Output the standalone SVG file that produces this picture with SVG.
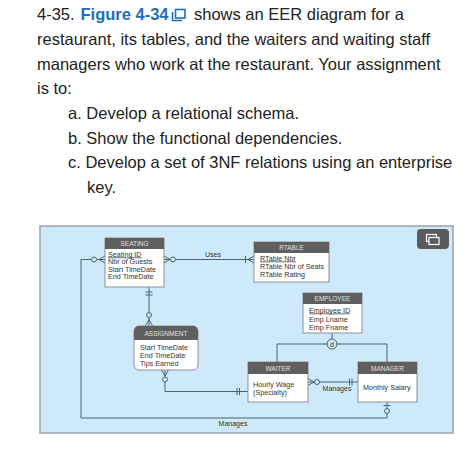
<svg xmlns="http://www.w3.org/2000/svg" width="474" height="460" viewBox="0 0 474 460">
<style>
.q{font-family:"Liberation Sans",Arial,sans-serif;font-size:16.5px;fill:#222}
.fig{font-weight:bold;fill:#1f6fb8}
.box{fill:#fff;stroke:#8c9296;stroke-width:1}
.hd{fill:#5f5f5f}
.ht{font-family:"Liberation Sans",Arial,sans-serif;font-size:6.5px;fill:#e0e0e0;text-anchor:middle}
.at{font-family:"Liberation Sans",Arial,sans-serif;font-size:7.2px;fill:#333}
.lb{font-family:"Liberation Sans",Arial,sans-serif;font-size:7px;fill:#333;text-anchor:middle}
.ln{fill:none;stroke:#4a6274;stroke-width:1}
.ci{fill:#cde9fa;stroke:#4a6274;stroke-width:1}
</style>
<rect width="474" height="460" fill="#fff"/>
<g id="question">
<text class="q" x="37" y="20">4-35.</text>
<text class="q fig" x="80.5" y="20">Figure 4-34</text>
<g fill="none" stroke="#1f6fb8" stroke-width="1.6">
<rect x="175.5" y="9.5" width="9.5" height="8.5"/>
<polyline points="172.5,12 172.5,20.5 182,20.5"/>
</g>
<text class="q" x="194" y="20">shows an EER diagram for a</text>
<text class="q" x="37" y="45">restaurant, its tables, and the waiters and waiting staff</text>
<text class="q" x="37" y="69.5">managers who work at the restaurant. Your assignment</text>
<text class="q" x="37" y="94">is to:</text>
<text class="q" x="68" y="119">a. Develop a relational schema.</text>
<text class="q" x="68" y="143.5">b. Show the functional dependencies.</text>
<text class="q" x="68" y="168">c. Develop a set of 3NF relations using an enterprise</text>
<text class="q" x="87" y="192.5">key.</text>
</g>
<g id="panel">
<rect x="40" y="226" width="413" height="207" fill="#cde9fa" stroke="#9aa4aa" stroke-width="1.5"/>
<rect x="417" y="229" width="32" height="20" rx="4" fill="#5b5b5b"/>
<rect x="426.5" y="234.5" width="10" height="7" fill="none" stroke="#fff" stroke-width="1.2"/>
<rect x="429" y="237.5" width="10" height="7" fill="#5b5b5b" stroke="#fff" stroke-width="1.2"/>
</g>
<g id="connectors">
<!-- Uses -->
<path class="ln" d="M164,259.5 H254"/>
<path class="ln" d="M170,259.5 L164,256 M170,259.5 L164,263"/>
<circle class="ci" cx="173" cy="259.5" r="2.5"/>
<path class="ln" d="M245.5,256 V263 M248,259.5 L254,256 M248,259.5 L254,263"/>
<text class="lb" x="213" y="257">Uses</text>
<!-- Manages (bottom loop) -->
<path class="ln" d="M105,259.5 H81 V418 H387 V402"/>
<path class="ln" d="M99,259.5 L105,256 M99,259.5 L105,263"/>
<circle class="ci" cx="94" cy="259.5" r="2.5"/>
<path class="ln" d="M383.5,405.5 H390.5"/>
<circle class="ci" cx="387" cy="411" r="2.5"/>
<text class="lb" x="233" y="426">Manages</text>
<!-- Seating - Assignment -->
<path class="ln" d="M149,287 V326"/>
<path class="ln" d="M145.5,292 H152.5 M145.5,295 H152.5"/>
<circle class="ci" cx="149" cy="315" r="2.5"/>
<path class="ln" d="M149,319.5 L145.5,326 M149,319.5 L152.5,326"/>
<!-- Assignment - Waiter -->
<path class="ln" d="M165,370 V391.5 H248"/>
<path class="ln" d="M165,376 L161.5,370 M165,376 L168.5,370"/>
<circle class="ci" cx="165" cy="379.5" r="2.5"/>
<path class="ln" d="M237,388 V395 M239.5,388 V395"/>
<!-- Waiter - Manager -->
<path class="ln" d="M308,382 H358"/>
<path class="ln" d="M314,382 L308,378.5 M314,382 L308,385.5"/>
<circle class="ci" cx="317" cy="382" r="2.5"/>
<path class="ln" d="M349.5,378.5 V385.5 M352,378.5 V385.5"/>
<text class="lb" x="337" y="391">Manages</text>
<!-- Specialization -->
<path class="ln" d="M332,333 V339 M277,362 V344 H387 V362"/>
<circle class="ci" cx="332" cy="344" r="5"/>
<text class="lb" x="332" y="346.5">d</text>
</g>
<g id="seating">
<rect class="box" x="105" y="238" width="59" height="49"/>
<rect class="hd" x="105" y="238" width="59" height="11"/>
<text class="ht" x="134.5" y="246">SEATING</text>
<text class="at" x="108" y="256.5" text-decoration="underline">Seating ID</text>
<text class="at" x="108" y="264">Nbr of Guests</text>
<text class="at" x="108" y="271.5">Start TimeDate</text>
<text class="at" x="108" y="279">End TimeDate</text>
</g>
<g id="rtable">
<rect class="box" x="254" y="242" width="75" height="40"/>
<rect class="hd" x="254" y="242" width="75" height="11"/>
<text class="ht" x="291.5" y="250">RTABLE</text>
<text class="at" x="260" y="260.5" text-decoration="underline">RTable Nbr</text>
<text class="at" x="260" y="268.5">RTable Nbr of Seats</text>
<text class="at" x="260" y="276.5">RTable Rating</text>
</g>
<g id="employee">
<rect class="box" x="303" y="293" width="59" height="40"/>
<rect class="hd" x="303" y="293" width="59" height="11"/>
<text class="ht" x="332.5" y="301">EMPLOYEE</text>
<text class="at" x="309" y="312.5" text-decoration="underline">Employee ID</text>
<text class="at" x="309" y="321.5">Emp Lname</text>
<text class="at" x="309" y="330">Emp Fname</text>
</g>
<g id="assignment">
<rect class="box" x="134" y="326" width="64" height="44" rx="5"/>
<path class="hd" d="M134,340 V331 A5,5 0 0 1 139,326 H193 A5,5 0 0 1 198,331 V340 Z"/>
<text class="ht" x="166" y="335.5">ASSIGNMENT</text>
<text class="at" x="140" y="349.5">Start TimeDate</text>
<text class="at" x="140" y="357.5">End TimeDate</text>
<text class="at" x="140" y="365.5">Tips Earned</text>
</g>
<g id="waiter">
<rect class="box" x="248" y="362" width="60" height="40"/>
<rect class="hd" x="248" y="362" width="60" height="12"/>
<text class="ht" x="278" y="370.5">WAITER</text>
<text class="at" x="253" y="386.5">Hourly Wage</text>
<text class="at" x="253" y="395">(Specialty)</text>
</g>
<g id="manager">
<rect class="box" x="358" y="362" width="59" height="40"/>
<rect class="hd" x="358" y="362" width="59" height="12"/>
<text class="ht" x="387.5" y="370.5">MANAGER</text>
<text class="at" x="363" y="389.5">Monthly Salary</text>
</g>
</svg>
